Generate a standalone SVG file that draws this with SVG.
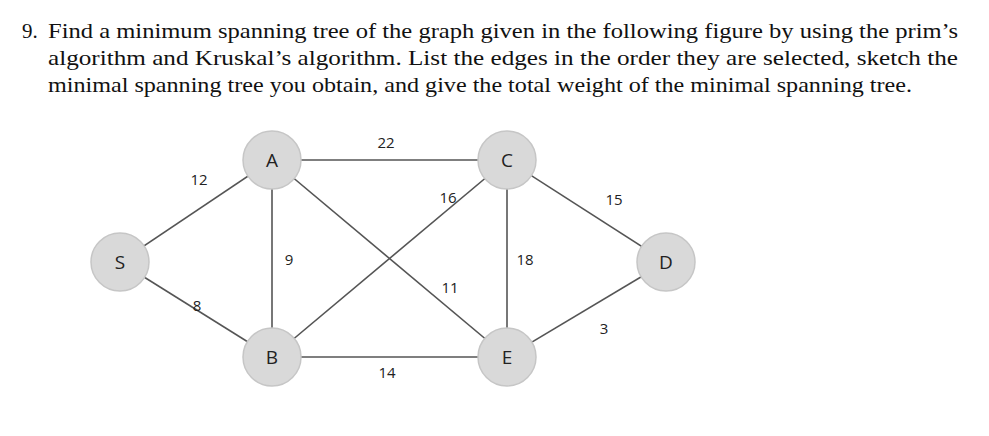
<svg xmlns="http://www.w3.org/2000/svg" width="989" height="436" viewBox="0 0 989 436">
<style>
.q{font-family:"Liberation Serif",serif;font-size:21px;fill:#111}
.n circle{fill:#d9d9d9;stroke:#c6c6c6;stroke-width:1.5}
.n text{font-family:"Open Sans","Liberation Sans",sans-serif;font-size:19px;fill:#222;text-anchor:middle}
.e line{stroke:#555;stroke-width:1.6}
.w{font-family:"Open Sans","Liberation Sans",sans-serif;font-size:15px;fill:#222;text-anchor:middle}
</style>
<rect width="989" height="436" fill="#fff"/>
<text class="q" x="22" y="38">9.</text>
<text class="q" x="48" y="38" textLength="910" lengthAdjust="spacingAndGlyphs">Find a minimum spanning tree of the graph given in the following figure by using the prim’s</text>
<text class="q" x="48" y="65" textLength="910" lengthAdjust="spacingAndGlyphs">algorithm and Kruskal’s algorithm. List the edges in the order they are selected, sketch the</text>
<text class="q" x="48" y="92" textLength="864" lengthAdjust="spacingAndGlyphs">minimal spanning tree you obtain, and give the total weight of the minimal spanning tree.</text>
<g id="edges" class="e">
<line x1="120" y1="262" x2="272" y2="160"/>
<line x1="120" y1="262" x2="272" y2="357"/>
<line x1="272" y1="160" x2="507" y2="160"/>
<line x1="272" y1="160" x2="272" y2="357"/>
<line x1="272" y1="160" x2="507" y2="357"/>
<line x1="272" y1="357" x2="507" y2="160"/>
<line x1="272" y1="357" x2="507" y2="357"/>
<line x1="507" y1="160" x2="507" y2="357"/>
<line x1="507" y1="160" x2="666" y2="262"/>
<line x1="507" y1="357" x2="666" y2="262"/>
</g>
<g id="weights">
<text class="w" x="199" y="185">12</text>
<text class="w" x="197" y="311">8</text>
<text class="w" x="386" y="148">22</text>
<text class="w" x="289" y="265">9</text>
<text class="w" x="450" y="293">11</text>
<text class="w" x="448" y="203">16</text>
<text class="w" x="387" y="378">14</text>
<text class="w" x="525" y="265">18</text>
<text class="w" x="614" y="205">15</text>
<text class="w" x="604" y="334">3</text>
</g>
<g id="S" class="n"><circle cx="120" cy="262" r="29"/><text x="120" y="269">S</text></g>
<g id="A" class="n"><circle cx="272" cy="160" r="29"/><text x="272" y="167">A</text></g>
<g id="C" class="n"><circle cx="507" cy="160" r="29"/><text x="507" y="167">C</text></g>
<g id="B" class="n"><circle cx="272" cy="357" r="29"/><text x="272" y="364">B</text></g>
<g id="E" class="n"><circle cx="507" cy="357" r="29"/><text x="507" y="364">E</text></g>
<g id="D" class="n"><circle cx="666" cy="262" r="29"/><text x="666" y="269">D</text></g>
</svg>
